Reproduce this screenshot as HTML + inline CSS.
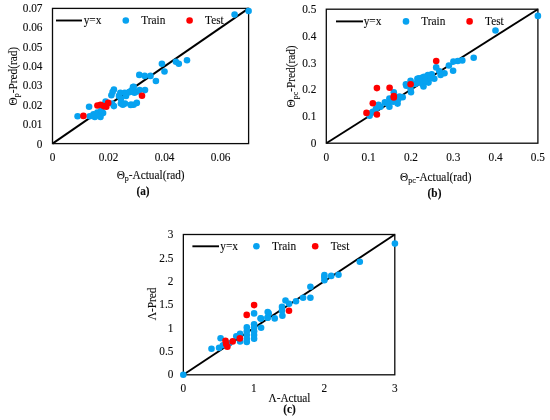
<!DOCTYPE html>
<html><head><meta charset="utf-8"><title>Predicted vs actual</title>
<style>
html,body{margin:0;padding:0;background:#fff;}
body{width:550px;height:420px;overflow:hidden;}
svg{display:block;}
svg text{font-family:"Liberation Serif","DejaVu Serif",serif;font-size:11.3px;fill:#0a0a0a;stroke:#0a0a0a;stroke-width:0.1px;}
</style></head><body>
<svg width="550" height="420" viewBox="0 0 550 420">
<rect x="0" y="0" width="550" height="420" fill="#fff"/>
<line x1="52.5" y1="143.6" x2="248.6" y2="8.4" stroke="#000" stroke-width="1.9"/>
<rect x="52.5" y="8.4" width="196.1" height="135.2" fill="none" stroke="#0a0a0a" stroke-width="1.3"/>
<text transform="translate(42.5 147.7) scale(1 1.06)" text-anchor="end">0</text>
<text transform="translate(42.5 128.27) scale(1 1.06)" text-anchor="end">0.01</text>
<text transform="translate(42.5 108.84) scale(1 1.06)" text-anchor="end">0.02</text>
<text transform="translate(42.5 89.41) scale(1 1.06)" text-anchor="end">0.03</text>
<text transform="translate(42.5 69.99) scale(1 1.06)" text-anchor="end">0.04</text>
<text transform="translate(42.5 50.56) scale(1 1.06)" text-anchor="end">0.05</text>
<text transform="translate(42.5 31.13) scale(1 1.06)" text-anchor="end">0.06</text>
<text transform="translate(42.5 11.7) scale(1 1.06)" text-anchor="end">0.07</text>
<text transform="translate(52.5 161.0) scale(1 1.06)" text-anchor="middle">0</text>
<text transform="translate(108.53 161.0) scale(1 1.06)" text-anchor="middle">0.02</text>
<text transform="translate(164.56 161.0) scale(1 1.06)" text-anchor="middle">0.04</text>
<text transform="translate(220.59 161.0) scale(1 1.06)" text-anchor="middle">0.06</text>
<line x1="56" y1="20.5" x2="82" y2="20.5" stroke="#000" stroke-width="1.9"/>
<text transform="translate(83.7 24.1) scale(1 1.06)" text-anchor="start" font-size="12.3">y=x</text>
<circle cx="125.8" cy="20.5" r="3.3" fill="#07a2f0"/>
<text transform="translate(141.3 24.1) scale(1 1.06)" text-anchor="start" font-size="12.3">Train</text>
<circle cx="189.6" cy="20.5" r="3.3" fill="#fe0000"/>
<text transform="translate(205.1 24.1) scale(1 1.06)" text-anchor="start" font-size="12.3">Test</text>
<circle cx="77.6" cy="116.3" r="3.3" fill="#07a2f0"/>
<circle cx="89.1" cy="106.7" r="3.3" fill="#07a2f0"/>
<circle cx="89.7" cy="116.3" r="3.3" fill="#07a2f0"/>
<circle cx="93.5" cy="114.4" r="3.3" fill="#07a2f0"/>
<circle cx="94.8" cy="116.9" r="3.3" fill="#07a2f0"/>
<circle cx="97.4" cy="112.5" r="3.3" fill="#07a2f0"/>
<circle cx="100.5" cy="116.9" r="3.3" fill="#07a2f0"/>
<circle cx="103.1" cy="113.1" r="3.3" fill="#07a2f0"/>
<circle cx="101.2" cy="110.5" r="3.3" fill="#07a2f0"/>
<circle cx="105.6" cy="101.6" r="3.3" fill="#07a2f0"/>
<circle cx="113.9" cy="89.5" r="3.3" fill="#07a2f0"/>
<circle cx="112.6" cy="92.1" r="3.3" fill="#07a2f0"/>
<circle cx="111.4" cy="95.3" r="3.3" fill="#07a2f0"/>
<circle cx="113.9" cy="106.1" r="3.3" fill="#07a2f0"/>
<circle cx="112" cy="103.5" r="3.3" fill="#07a2f0"/>
<circle cx="120.3" cy="92.7" r="3.3" fill="#07a2f0"/>
<circle cx="119" cy="95.9" r="3.3" fill="#07a2f0"/>
<circle cx="120.9" cy="99.1" r="3.3" fill="#07a2f0"/>
<circle cx="120.9" cy="103.5" r="3.3" fill="#07a2f0"/>
<circle cx="122.8" cy="104.8" r="3.3" fill="#07a2f0"/>
<circle cx="124.7" cy="92.7" r="3.3" fill="#07a2f0"/>
<circle cx="126" cy="95.9" r="3.3" fill="#07a2f0"/>
<circle cx="129.2" cy="92.1" r="3.3" fill="#07a2f0"/>
<circle cx="131.1" cy="104.8" r="3.3" fill="#07a2f0"/>
<circle cx="133.6" cy="104.8" r="3.3" fill="#07a2f0"/>
<circle cx="136.8" cy="102.9" r="3.3" fill="#07a2f0"/>
<circle cx="133" cy="87" r="3.3" fill="#07a2f0"/>
<circle cx="133.6" cy="91.5" r="3.3" fill="#07a2f0"/>
<circle cx="137.5" cy="91.5" r="3.3" fill="#07a2f0"/>
<circle cx="187" cy="60.3" r="3.3" fill="#07a2f0"/>
<circle cx="175.9" cy="61.8" r="3.3" fill="#07a2f0"/>
<circle cx="178.8" cy="63.8" r="3.3" fill="#07a2f0"/>
<circle cx="161.9" cy="63.8" r="3.3" fill="#07a2f0"/>
<circle cx="164.5" cy="71.5" r="3.3" fill="#07a2f0"/>
<circle cx="139.3" cy="74.9" r="3.3" fill="#07a2f0"/>
<circle cx="144.7" cy="75.9" r="3.3" fill="#07a2f0"/>
<circle cx="150.5" cy="75.9" r="3.3" fill="#07a2f0"/>
<circle cx="155.9" cy="81" r="3.3" fill="#07a2f0"/>
<circle cx="133.7" cy="86.7" r="3.3" fill="#07a2f0"/>
<circle cx="131.4" cy="90.5" r="3.3" fill="#07a2f0"/>
<circle cx="134.5" cy="92.7" r="3.3" fill="#07a2f0"/>
<circle cx="139.6" cy="90.1" r="3.3" fill="#07a2f0"/>
<circle cx="145" cy="90.1" r="3.3" fill="#07a2f0"/>
<circle cx="126.3" cy="93.5" r="3.3" fill="#07a2f0"/>
<circle cx="130" cy="92" r="3.3" fill="#07a2f0"/>
<circle cx="130.7" cy="104.9" r="3.3" fill="#07a2f0"/>
<circle cx="125" cy="103.6" r="3.3" fill="#07a2f0"/>
<circle cx="234.6" cy="14.6" r="3.3" fill="#07a2f0"/>
<circle cx="248.6" cy="10.95" r="3.3" fill="#07a2f0"/>
<circle cx="83.4" cy="115.9" r="3.3" fill="#fe0000"/>
<circle cx="97.4" cy="105.5" r="3.3" fill="#fe0000"/>
<circle cx="100.5" cy="104.8" r="3.3" fill="#fe0000"/>
<circle cx="103.7" cy="106.1" r="3.3" fill="#fe0000"/>
<circle cx="106.3" cy="106.7" r="3.3" fill="#fe0000"/>
<circle cx="108.2" cy="102.9" r="3.3" fill="#fe0000"/>
<circle cx="142" cy="95.7" r="3.3" fill="#fe0000"/>
<text transform="translate(16.8 76.2) rotate(-90) scale(1 1.06)" text-anchor="middle" font-size="12.2">Θ<tspan font-size="8" dy="2.4">p</tspan><tspan dy="-2.4">-Pred(rad)</tspan></text>
<text transform="translate(150.6 178.8) scale(1 1.06)" text-anchor="middle" font-size="12.2">Θ<tspan font-size="8" dy="2.4">p</tspan><tspan dy="-2.4">-Actual(rad)</tspan></text>
<text transform="translate(143 195.2) scale(1 1.06)" text-anchor="middle" font-weight="bold" font-size="10.8">(a)</text>
<line x1="326.3" y1="143.2" x2="537.9" y2="9.2" stroke="#000" stroke-width="1.9"/>
<rect x="326.3" y="9.2" width="211.59999999999997" height="134.0" fill="none" stroke="#0a0a0a" stroke-width="1.3"/>
<text transform="translate(316.3 147.1) scale(1 1.06)" text-anchor="end">0</text>
<text transform="translate(316.3 120.25) scale(1 1.06)" text-anchor="end">0.1</text>
<text transform="translate(316.3 93.4) scale(1 1.06)" text-anchor="end">0.2</text>
<text transform="translate(316.3 66.56) scale(1 1.06)" text-anchor="end">0.3</text>
<text transform="translate(316.3 39.71) scale(1 1.06)" text-anchor="end">0.4</text>
<text transform="translate(316.3 12.86) scale(1 1.06)" text-anchor="end">0.5</text>
<text transform="translate(326.3 160.8) scale(1 1.06)" text-anchor="middle">0</text>
<text transform="translate(368.62 160.8) scale(1 1.06)" text-anchor="middle">0.1</text>
<text transform="translate(410.94 160.8) scale(1 1.06)" text-anchor="middle">0.2</text>
<text transform="translate(453.26 160.8) scale(1 1.06)" text-anchor="middle">0.3</text>
<text transform="translate(495.58 160.8) scale(1 1.06)" text-anchor="middle">0.4</text>
<text transform="translate(537.9 160.8) scale(1 1.06)" text-anchor="middle">0.5</text>
<line x1="336" y1="21.4" x2="363" y2="21.4" stroke="#000" stroke-width="1.9"/>
<text transform="translate(363.7 25.0) scale(1 1.06)" text-anchor="start" font-size="12.3">y=x</text>
<circle cx="406" cy="21.4" r="3.3" fill="#07a2f0"/>
<text transform="translate(421.3 25.0) scale(1 1.06)" text-anchor="start" font-size="12.3">Train</text>
<circle cx="469.6" cy="21.4" r="3.3" fill="#fe0000"/>
<text transform="translate(485.1 25.0) scale(1 1.06)" text-anchor="start" font-size="12.3">Test</text>
<circle cx="370.9" cy="113.2" r="3.3" fill="#07a2f0"/>
<circle cx="369.6" cy="115.7" r="3.3" fill="#07a2f0"/>
<circle cx="372.8" cy="111.9" r="3.3" fill="#07a2f0"/>
<circle cx="376" cy="108.7" r="3.3" fill="#07a2f0"/>
<circle cx="378.5" cy="104.9" r="3.3" fill="#07a2f0"/>
<circle cx="380.5" cy="106.8" r="3.3" fill="#07a2f0"/>
<circle cx="384.9" cy="102.4" r="3.3" fill="#07a2f0"/>
<circle cx="387.5" cy="103.6" r="3.3" fill="#07a2f0"/>
<circle cx="389.4" cy="106.8" r="3.3" fill="#07a2f0"/>
<circle cx="389.4" cy="98.5" r="3.3" fill="#07a2f0"/>
<circle cx="393.8" cy="92.2" r="3.3" fill="#07a2f0"/>
<circle cx="397.6" cy="103.6" r="3.3" fill="#07a2f0"/>
<circle cx="398.3" cy="99.2" r="3.3" fill="#07a2f0"/>
<circle cx="399.5" cy="96.6" r="3.3" fill="#07a2f0"/>
<circle cx="402.7" cy="97.3" r="3.3" fill="#07a2f0"/>
<circle cx="405.9" cy="84.2" r="3.3" fill="#07a2f0"/>
<circle cx="410.6" cy="80.7" r="3.3" fill="#07a2f0"/>
<circle cx="410.6" cy="89" r="3.3" fill="#07a2f0"/>
<circle cx="411" cy="92.2" r="3.3" fill="#07a2f0"/>
<circle cx="414.8" cy="83.9" r="3.3" fill="#07a2f0"/>
<circle cx="417.4" cy="78.8" r="3.3" fill="#07a2f0"/>
<circle cx="419.9" cy="81.4" r="3.3" fill="#07a2f0"/>
<circle cx="422.5" cy="77.5" r="3.3" fill="#07a2f0"/>
<circle cx="422.5" cy="83.9" r="3.3" fill="#07a2f0"/>
<circle cx="393.2" cy="101.7" r="3.3" fill="#07a2f0"/>
<circle cx="473.7" cy="57.8" r="3.3" fill="#07a2f0"/>
<circle cx="462.3" cy="60.4" r="3.3" fill="#07a2f0"/>
<circle cx="457.8" cy="61" r="3.3" fill="#07a2f0"/>
<circle cx="453.4" cy="61.6" r="3.3" fill="#07a2f0"/>
<circle cx="448.9" cy="65.5" r="3.3" fill="#07a2f0"/>
<circle cx="453.1" cy="70.8" r="3.3" fill="#07a2f0"/>
<circle cx="436.2" cy="67.4" r="3.3" fill="#07a2f0"/>
<circle cx="439.4" cy="71.2" r="3.3" fill="#07a2f0"/>
<circle cx="444.5" cy="73.3" r="3.3" fill="#07a2f0"/>
<circle cx="440.6" cy="75" r="3.3" fill="#07a2f0"/>
<circle cx="431.7" cy="74.4" r="3.3" fill="#07a2f0"/>
<circle cx="427.9" cy="75" r="3.3" fill="#07a2f0"/>
<circle cx="434.3" cy="78.8" r="3.3" fill="#07a2f0"/>
<circle cx="424.1" cy="76.9" r="3.3" fill="#07a2f0"/>
<circle cx="419" cy="78.2" r="3.3" fill="#07a2f0"/>
<circle cx="428.5" cy="82.6" r="3.3" fill="#07a2f0"/>
<circle cx="423.5" cy="86.5" r="3.3" fill="#07a2f0"/>
<circle cx="420.3" cy="82" r="3.3" fill="#07a2f0"/>
<circle cx="416.5" cy="83.3" r="3.3" fill="#07a2f0"/>
<circle cx="406.3" cy="85.8" r="3.3" fill="#07a2f0"/>
<circle cx="425.4" cy="80.7" r="3.3" fill="#07a2f0"/>
<circle cx="430.5" cy="78.2" r="3.3" fill="#07a2f0"/>
<circle cx="495.5" cy="30.5" r="3.3" fill="#07a2f0"/>
<circle cx="537.9" cy="15.9" r="3.3" fill="#07a2f0"/>
<circle cx="376.9" cy="88.1" r="3.3" fill="#fe0000"/>
<circle cx="389.6" cy="87.7" r="3.3" fill="#fe0000"/>
<circle cx="372.8" cy="103.3" r="3.3" fill="#fe0000"/>
<circle cx="366.5" cy="112.9" r="3.3" fill="#fe0000"/>
<circle cx="376.9" cy="114.5" r="3.3" fill="#fe0000"/>
<circle cx="393.8" cy="96.0" r="3.3" fill="#fe0000"/>
<circle cx="393.8" cy="97.4" r="3.3" fill="#fe0000"/>
<circle cx="410.6" cy="84.2" r="3.3" fill="#fe0000"/>
<circle cx="436.2" cy="61" r="3.3" fill="#fe0000"/>
<text transform="translate(295.2 76.4) rotate(-90) scale(1 1.06)" text-anchor="middle" font-size="12.2">Θ<tspan font-size="8" dy="2.4">pc</tspan><tspan dy="-2.4">-Pred(rad)</tspan></text>
<text transform="translate(435.7 180.6) scale(1 1.06)" text-anchor="middle" font-size="12.2">Θ<tspan font-size="8" dy="2.4">pc</tspan><tspan dy="-2.4">-Actual(rad)</tspan></text>
<text transform="translate(434.5 197.2) scale(1 1.06)" text-anchor="middle" font-weight="bold" font-size="10.8">(b)</text>
<line x1="183.35" y1="374.8" x2="394.8" y2="234.5" stroke="#000" stroke-width="1.9"/>
<rect x="183.35" y="234.5" width="211.45000000000002" height="140.3" fill="none" stroke="#0a0a0a" stroke-width="1.3"/>
<text transform="translate(173.35 378.3) scale(1 1.06)" text-anchor="end">0</text>
<text transform="translate(173.35 354.97) scale(1 1.06)" text-anchor="end">0.5</text>
<text transform="translate(173.35 331.63) scale(1 1.06)" text-anchor="end">1</text>
<text transform="translate(173.35 308.3) scale(1 1.06)" text-anchor="end">1.5</text>
<text transform="translate(173.35 284.97) scale(1 1.06)" text-anchor="end">2</text>
<text transform="translate(173.35 261.63) scale(1 1.06)" text-anchor="end">2.5</text>
<text transform="translate(173.35 238.3) scale(1 1.06)" text-anchor="end">3</text>
<text transform="translate(183.35 392.0) scale(1 1.06)" text-anchor="middle">0</text>
<text transform="translate(253.83 392.0) scale(1 1.06)" text-anchor="middle">1</text>
<text transform="translate(324.32 392.0) scale(1 1.06)" text-anchor="middle">2</text>
<text transform="translate(394.8 392.0) scale(1 1.06)" text-anchor="middle">3</text>
<line x1="192.4" y1="246.3" x2="219" y2="246.3" stroke="#000" stroke-width="1.9"/>
<text transform="translate(220.3 249.9) scale(1 1.06)" text-anchor="start" font-size="12.3">y=x</text>
<circle cx="256.4" cy="246.3" r="3.3" fill="#07a2f0"/>
<text transform="translate(272.1 249.9) scale(1 1.06)" text-anchor="start" font-size="12.3">Train</text>
<circle cx="315.2" cy="246.3" r="3.3" fill="#fe0000"/>
<text transform="translate(330.7 249.9) scale(1 1.06)" text-anchor="start" font-size="12.3">Test</text>
<circle cx="254.1" cy="313.4" r="3.3" fill="#07a2f0"/>
<circle cx="268.7" cy="313.4" r="3.3" fill="#07a2f0"/>
<circle cx="260.8" cy="318.5" r="3.3" fill="#07a2f0"/>
<circle cx="267.5" cy="317.8" r="3.3" fill="#07a2f0"/>
<circle cx="261.1" cy="327.7" r="3.3" fill="#07a2f0"/>
<circle cx="254.1" cy="324.2" r="3.3" fill="#07a2f0"/>
<circle cx="254.1" cy="327.4" r="3.3" fill="#07a2f0"/>
<circle cx="254.1" cy="331.2" r="3.3" fill="#07a2f0"/>
<circle cx="254.1" cy="335" r="3.3" fill="#07a2f0"/>
<circle cx="254.1" cy="338.8" r="3.3" fill="#07a2f0"/>
<circle cx="246.8" cy="327.4" r="3.3" fill="#07a2f0"/>
<circle cx="246.8" cy="331.2" r="3.3" fill="#07a2f0"/>
<circle cx="246.8" cy="335" r="3.3" fill="#07a2f0"/>
<circle cx="246.8" cy="338.8" r="3.3" fill="#07a2f0"/>
<circle cx="246.8" cy="342" r="3.3" fill="#07a2f0"/>
<circle cx="240.1" cy="333.7" r="3.3" fill="#07a2f0"/>
<circle cx="240.1" cy="341.4" r="3.3" fill="#07a2f0"/>
<circle cx="236.3" cy="336.3" r="3.3" fill="#07a2f0"/>
<circle cx="220.6" cy="338.2" r="3.3" fill="#07a2f0"/>
<circle cx="219.1" cy="347.7" r="3.3" fill="#07a2f0"/>
<circle cx="211.5" cy="348.7" r="3.3" fill="#07a2f0"/>
<circle cx="222.9" cy="345.2" r="3.3" fill="#07a2f0"/>
<circle cx="229.3" cy="343.3" r="3.3" fill="#07a2f0"/>
<circle cx="324.4" cy="275.1" r="3.3" fill="#07a2f0"/>
<circle cx="324.4" cy="280.2" r="3.3" fill="#07a2f0"/>
<circle cx="310.4" cy="286.8" r="3.3" fill="#07a2f0"/>
<circle cx="310.4" cy="297.7" r="3.3" fill="#07a2f0"/>
<circle cx="303.1" cy="297.7" r="3.3" fill="#07a2f0"/>
<circle cx="296" cy="301.2" r="3.3" fill="#07a2f0"/>
<circle cx="285.5" cy="300.5" r="3.3" fill="#07a2f0"/>
<circle cx="289.1" cy="303.7" r="3.3" fill="#07a2f0"/>
<circle cx="282" cy="306.9" r="3.3" fill="#07a2f0"/>
<circle cx="282" cy="310.7" r="3.3" fill="#07a2f0"/>
<circle cx="282.4" cy="315.8" r="3.3" fill="#07a2f0"/>
<circle cx="274.7" cy="318.4" r="3.3" fill="#07a2f0"/>
<circle cx="267.7" cy="312" r="3.3" fill="#07a2f0"/>
<circle cx="267.7" cy="317.7" r="3.3" fill="#07a2f0"/>
<circle cx="260.7" cy="318.4" r="3.3" fill="#07a2f0"/>
<circle cx="394.9" cy="243.6" r="3.3" fill="#07a2f0"/>
<circle cx="359.8" cy="261.7" r="3.3" fill="#07a2f0"/>
<circle cx="338.5" cy="274.8" r="3.3" fill="#07a2f0"/>
<circle cx="331.2" cy="275.9" r="3.3" fill="#07a2f0"/>
<circle cx="324.3" cy="277.1" r="3.3" fill="#07a2f0"/>
<circle cx="183.3" cy="374.8" r="3.3" fill="#07a2f0"/>
<circle cx="254.1" cy="305.1" r="3.3" fill="#fe0000"/>
<circle cx="246.7" cy="314.9" r="3.3" fill="#fe0000"/>
<circle cx="239.8" cy="338.4" r="3.3" fill="#fe0000"/>
<circle cx="232.7" cy="341.4" r="3.3" fill="#fe0000"/>
<circle cx="225.5" cy="340.7" r="3.3" fill="#fe0000"/>
<circle cx="226.1" cy="343.9" r="3.3" fill="#fe0000"/>
<circle cx="227.4" cy="346.8" r="3.3" fill="#fe0000"/>
<circle cx="289" cy="310.7" r="3.3" fill="#fe0000"/>
<text transform="translate(156.2 304) rotate(-90) scale(1 1.06)" text-anchor="middle" font-size="12.2">Λ-Pred</text>
<text transform="translate(289.5 401.6) scale(1 1.06)" text-anchor="middle" font-size="12.2">Λ-Actual</text>
<text transform="translate(289.5 413.0) scale(1 1.06)" text-anchor="middle" font-weight="bold" font-size="10.8">(c)</text>
</svg>
</body></html>
